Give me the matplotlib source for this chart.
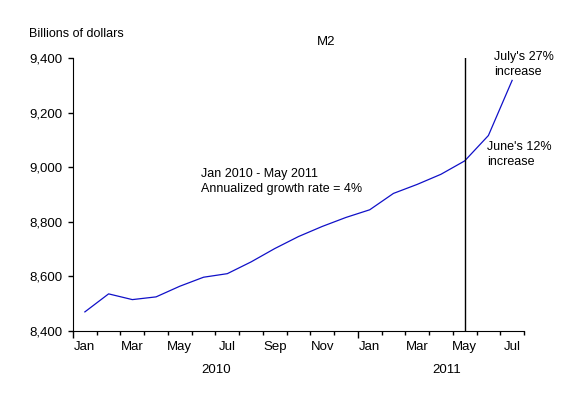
import numpy as np
import matplotlib
matplotlib.use("Agg")
import matplotlib.pyplot as plt
from matplotlib.ticker import FuncFormatter

plt.rcParams['font.family'] = ['Liberation Sans', 'DejaVu Sans']

# monthly M2, Jan 2010 .. Jul 2011 (billions of dollars)
months = ['Jan', 'Feb', 'Mar', 'Apr', 'May', 'Jun', 'Jul', 'Aug', 'Sep', 'Oct', 'Nov', 'Dec',
          'Jan', 'Feb', 'Mar', 'Apr', 'May', 'Jun', 'Jul']
m2 = [8470, 8536, 8515, 8525, 8564, 8597, 8610, 8653, 8702, 8746, 8783, 8816,
      8844, 8904, 8937, 8974, 9023, 9116, 9318]
years = ['2010', '2011']
yticks = [8400, 8600, 8800, 9000, 9200, 9400]

fig = plt.figure(figsize=(5.85, 4.03), dpi=100)
ax = fig.add_axes([73 / 585, 1 - 331 / 403, 451 / 585, 273 / 403])

x = np.arange(len(m2)) + 0.5
ax.plot(x, m2, color='#1010c8', lw=0.9)
ax.axvline(x[16], color='black', lw=1)

ax.set_xlim(0, len(m2))
ax.set_ylim(8400, 9400)
ax.set_yticks(yticks)
ax.yaxis.set_major_formatter(FuncFormatter(lambda v, p: f'{int(v):,}'))

ax.set_xticks(np.arange(len(m2) + 1))
ax.set_xticklabels([])
ax.set_xticks(x[::2], minor=True)
ax.set_xticklabels(months[::2], minor=True)
ax.tick_params(axis='x', which='major', length=3, width=1, direction='out')
ax.tick_params(axis='x', which='minor', length=0, pad=7.5, labelsize=9.5)
ax.tick_params(axis='y', length=3.5, width=1, pad=4, labelsize=9.5)
for t in ax.xaxis.get_major_ticks()[::12]:
    t.tick1line.set_markersize(5)

for s in ['top', 'right']:
    ax.spines[s].set_visible(False)

ax.text(5.38, 8947, 'Jan 2010 - May 2011\nAnnualized growth rate = 4%',
        fontsize=9, va='center', ha='left', linespacing=1.4)
ax.text(17.75, 9376, "July's 27%\nincrease", fontsize=9, va='center', ha='left',
        linespacing=1.4, clip_on=False)
ax.text(17.44, 9046, "June's 12%\nincrease", fontsize=9, va='center', ha='left',
        linespacing=1.4, clip_on=False)

fig.text(29.3 / 585, 1 - 34.3 / 403, 'Billions of dollars', fontsize=9, va='center', ha='left')
fig.text(325.7 / 585, 1 - 41.7 / 403, 'M2', fontsize=9.5, va='center', ha='center')
fig.text(215.7 / 585, 1 - 370 / 403, years[0], fontsize=9.5, va='center', ha='center')
fig.text(446.7 / 585, 1 - 370 / 403, years[1], fontsize=9.5, va='center', ha='center')

fig.savefig('out.png', dpi=100)
